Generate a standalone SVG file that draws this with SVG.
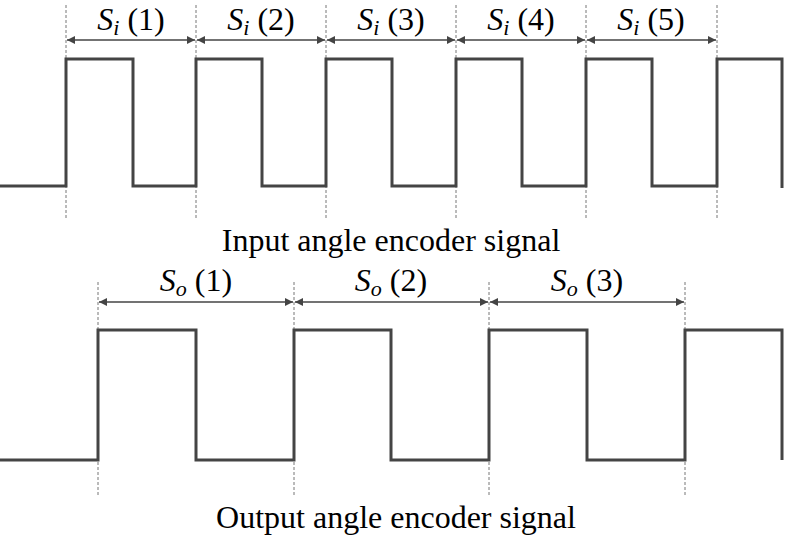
<svg xmlns="http://www.w3.org/2000/svg" width="785" height="537" viewBox="0 0 785 537">
<style>
.sig{fill:none;stroke:#444;stroke-width:3}
.dash{stroke:#777;stroke-width:1;stroke-dasharray:3,2}
.arr{stroke:#444;stroke-width:1.5;marker-start:url(#a);marker-end:url(#a)}
text{font-family:"Liberation Serif",serif;font-size:32px;fill:#000}
.lab{text-anchor:middle}
</style>
<defs><marker id="a" viewBox="0 0 10 10" refX="10" refY="5" markerWidth="14" markerHeight="8" orient="auto-start-reverse" markerUnits="userSpaceOnUse"><path d="M0,0 L10,5 L0,10z" fill="#444"/></marker></defs>
<rect width="785" height="537" fill="#fff"/>
<g id="connectors">
<g class="dash">
<line x1="66" y1="5" x2="66" y2="218"/><line x1="196" y1="5" x2="196" y2="218"/><line x1="326" y1="5" x2="326" y2="218"/><line x1="456" y1="5" x2="456" y2="218"/><line x1="586" y1="5" x2="586" y2="218"/><line x1="717" y1="5" x2="717" y2="218"/>
<line x1="98" y1="282" x2="98" y2="497"/><line x1="294" y1="282" x2="294" y2="497"/><line x1="489" y1="282" x2="489" y2="497"/><line x1="685" y1="282" x2="685" y2="497"/>
</g>
<line class="arr" x1="67" y1="40" x2="195" y2="40"/><line class="arr" x1="197" y1="40" x2="325" y2="40"/><line class="arr" x1="327" y1="40" x2="455" y2="40"/><line class="arr" x1="457" y1="40" x2="585" y2="40"/><line class="arr" x1="587" y1="40" x2="716" y2="40"/>
<line class="arr" x1="99" y1="302" x2="293" y2="302"/><line class="arr" x1="295" y1="302" x2="488" y2="302"/><line class="arr" x1="490" y1="302" x2="684" y2="302"/>
</g>
<g id="input-signal">
<path class="sig" d="M0,186 H66 V59 H133 V186 H196 V59 H262 V186 H326 V59 H392 V186 H456 V59 H522 V186 H586 V59 H652 V186 H717 V59 H782 V188"/>
</g>
<g id="labels-in">
<text class="lab" x="131" y="30"><tspan font-style="italic">S</tspan><tspan font-style="italic" font-size="22" dy="5">i</tspan><tspan dy="-5"> (1)</tspan></text>
<text class="lab" x="261" y="30"><tspan font-style="italic">S</tspan><tspan font-style="italic" font-size="22" dy="5">i</tspan><tspan dy="-5"> (2)</tspan></text>
<text class="lab" x="391" y="30"><tspan font-style="italic">S</tspan><tspan font-style="italic" font-size="22" dy="5">i</tspan><tspan dy="-5"> (3)</tspan></text>
<text class="lab" x="521" y="30"><tspan font-style="italic">S</tspan><tspan font-style="italic" font-size="22" dy="5">i</tspan><tspan dy="-5"> (4)</tspan></text>
<text class="lab" x="651" y="30"><tspan font-style="italic">S</tspan><tspan font-style="italic" font-size="22" dy="5">i</tspan><tspan dy="-5"> (5)</tspan></text>
<text class="lab" x="391" y="251">Input angle encoder signal</text>
</g>
<g id="output-signal">
<path class="sig" d="M0,460 H98 V330 H196 V460 H294 V330 H391 V460 H489 V330 H587 V460 H685 V330 H782 V460"/>
</g>
<g id="labels-out">
<text class="lab" x="196" y="291"><tspan font-style="italic">S</tspan><tspan font-style="italic" font-size="22" dy="5">o</tspan><tspan dy="-5"> (1)</tspan></text>
<text class="lab" x="391" y="291"><tspan font-style="italic">S</tspan><tspan font-style="italic" font-size="22" dy="5">o</tspan><tspan dy="-5"> (2)</tspan></text>
<text class="lab" x="587" y="291"><tspan font-style="italic">S</tspan><tspan font-style="italic" font-size="22" dy="5">o</tspan><tspan dy="-5"> (3)</tspan></text>
<text class="lab" x="396" y="528">Output angle encoder signal</text>
</g>
</svg>
